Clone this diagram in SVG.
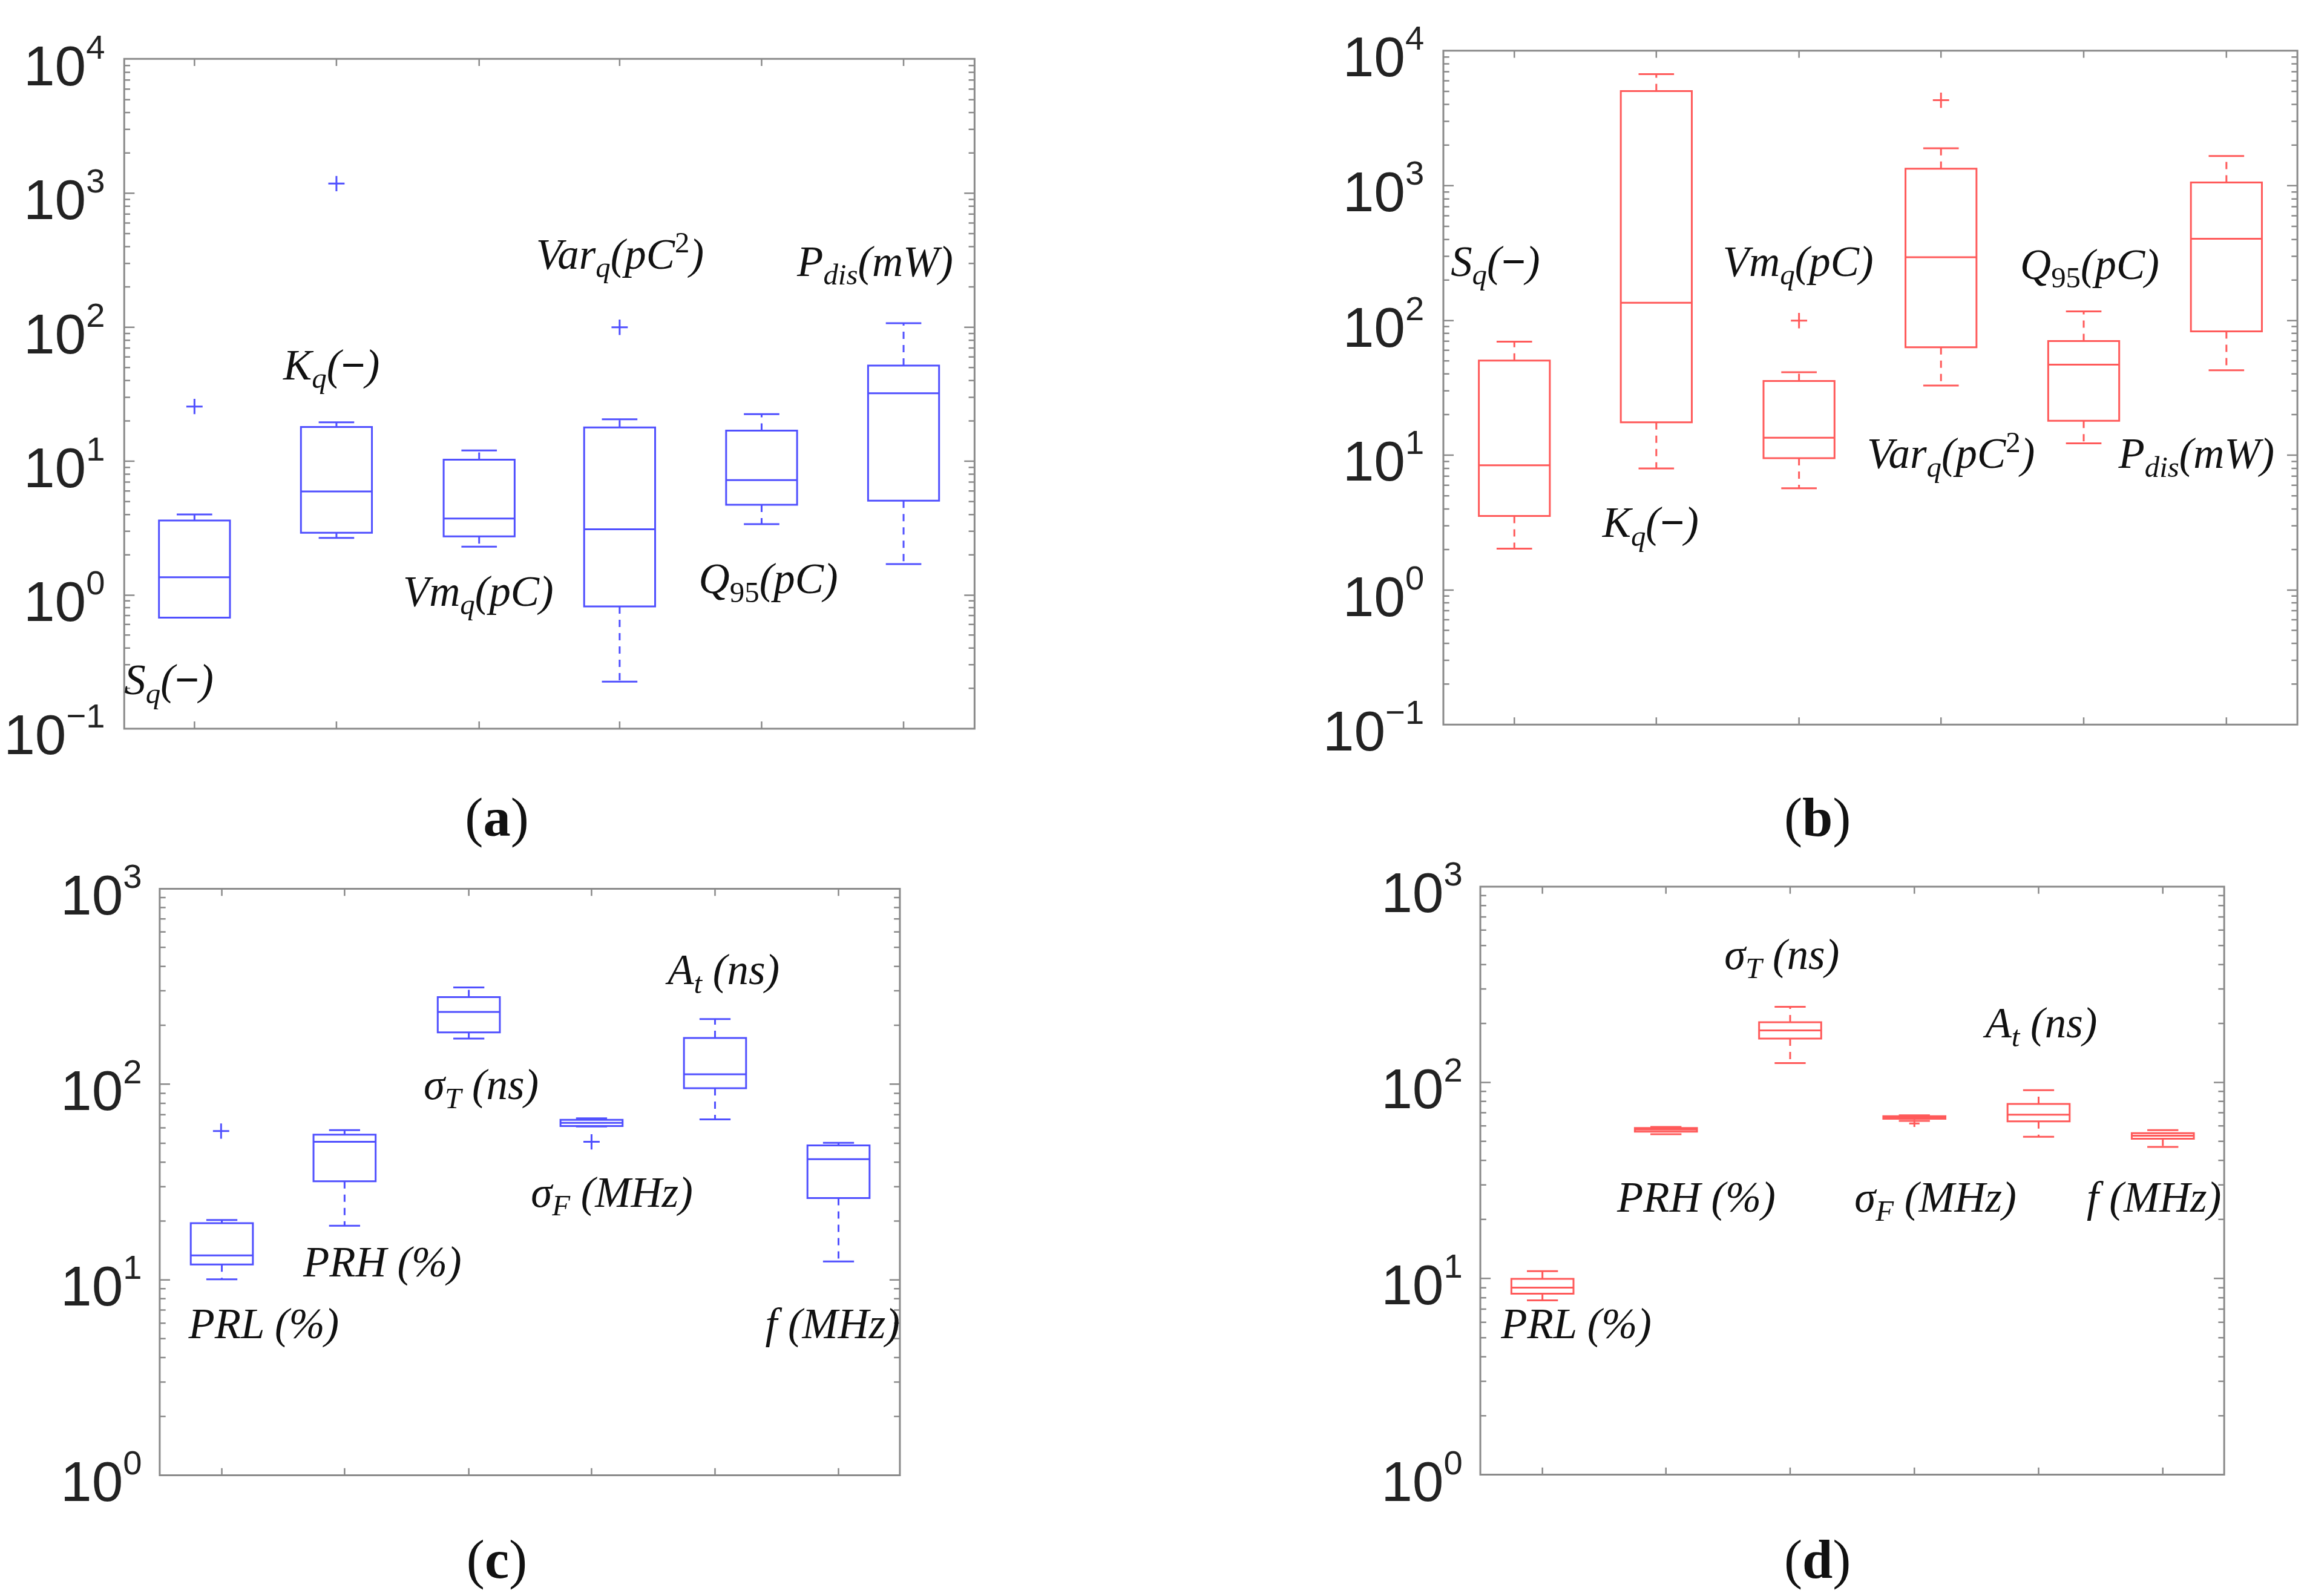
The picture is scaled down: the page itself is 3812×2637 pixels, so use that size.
<svg xmlns="http://www.w3.org/2000/svg" xmlns:xlink="http://www.w3.org/1999/xlink" width="3812" height="2637" viewBox="0 0 3812 2637">
<style>
rect,path{vector-effect:non-scaling-stroke}
.ax{fill:none;stroke:#8a8a8a;stroke-width:3}
.tkm{fill:none;stroke:#8a8a8a;stroke-width:2.5}
.bl{fill:none;stroke:#5050ff;stroke-width:3}
.rd{fill:none;stroke:#ff5a5a;stroke-width:3}
.dash{stroke-dasharray:12 10}
.tk{font-family:"Liberation Sans",Arial,sans-serif;font-size:76px;fill:#222}
.sup{font-size:46px}
.lab{font-family:"Liberation Serif","Times New Roman",serif;font-style:italic;font-size:58px;fill:#111}
.sub{font-size:40px}
.cap{font-family:"Liberation Serif","Times New Roman",serif;font-size:74px;fill:#111}
.bold{font-style:normal;font-weight:bold}
</style>
<defs>
<path id="mt" class="tkm" d="M0,-0.301h8M0,-0.477h8M0,-0.602h8M0,-0.699h8M0,-0.778h8M0,-0.845h8M0,-0.903h8M0,-0.954h8"/>
<path id="pl" d="M-11,0h22M0,-15v30"/>
</defs>
<rect width="3812" height="2637" fill="#fff"/>

<g id="panel-a" transform="scale(1.2218)">
<g transform="scale(1,0.6915)">
<rect class="ax" x="168" y="115" width="1150" height="1310"/>
<g>
<use xlink:href="#mt" transform="translate(168,1425) scale(1,262)"/><use xlink:href="#mt" transform="translate(168,1164) scale(1,262)"/><use xlink:href="#mt" transform="translate(168,902) scale(1,262)"/><use xlink:href="#mt" transform="translate(168,640) scale(1,262)"/><use xlink:href="#mt" transform="translate(168,378) scale(1,262)"/>
<use xlink:href="#mt" transform="translate(1318,1425) scale(-1,262)"/><use xlink:href="#mt" transform="translate(1318,1164) scale(-1,262)"/><use xlink:href="#mt" transform="translate(1318,902) scale(-1,262)"/><use xlink:href="#mt" transform="translate(1318,640) scale(-1,262)"/><use xlink:href="#mt" transform="translate(1318,378) scale(-1,262)"/>
<path class="tkm" d="M168,378h14M168,640h14M168,902h14M168,1164h14M1318,378h-14M1318,640h-14M1318,902h-14M1318,1164h-14M263,1425v-14M455,1425v-14M648,1425v-14M838,1425v-14M1030,1425v-14M1222,1425v-14M263,115v14M455,115v14M648,115v14M838,115v14M1030,115v14M1222,115v14"/>
</g>
<g id="a-boxes" class="bl">
<g id="a1"><rect x="215" y="1018" width="96" height="190"/><path d="M215,1129h96M263,1018v-12M239,1006h48"/><use xlink:href="#pl" x="263" y="795"/></g>
<g id="a2"><rect x="407" y="835" width="96" height="207"/><path d="M407,961h96M431,826h48M431,1052h48"/><path class="dash" d="M455,835v-9M455,1042v10"/><use xlink:href="#pl" x="455" y="359"/></g>
<g id="a3"><rect x="600" y="899" width="96" height="150"/><path d="M600,1014h96M624,881h48M624,1069h48"/><path class="dash" d="M648,899v-18M648,1049v20"/></g>
<g id="a4"><rect x="790" y="836" width="96" height="350"/><path d="M790,1035h96M814,820h48M814,1333h48"/><path class="dash" d="M838,836v-16M838,1186v147"/><use xlink:href="#pl" x="838" y="640"/></g>
<g id="a5"><rect x="982" y="842" width="96" height="145"/><path d="M982,939h96M1006,810h48M1006,1025h48"/><path class="dash" d="M1030,842v-32M1030,987v38"/></g>
<g id="a6"><rect x="1174" y="715" width="96" height="264"/><path d="M1174,769h96M1198,632h48M1198,1103h48"/><path class="dash" d="M1222,715v-83M1222,979v124"/></g>
</g>
</g>
<g text-anchor="end">
<text class="tk" x="142" y="115">10<tspan class="sup" dy="-36">4</tspan></text>
<text class="tk" x="142" y="296">10<tspan class="sup" dy="-36">3</tspan></text>
<text class="tk" x="142" y="478">10<tspan class="sup" dy="-36">2</tspan></text>
<text class="tk" x="142" y="659">10<tspan class="sup" dy="-36">1</tspan></text>
<text class="tk" x="142" y="840">10<tspan class="sup" dy="-36">0</tspan></text>
<text class="tk" x="142" y="1020">10<tspan class="sup" dy="-36">−1</tspan></text>
</g>
<g id="a-labels">
<text class="lab" x="168" y="939">S<tspan class="sub" dy="12">q</tspan><tspan dy="-12">(<tspan class="bold">−</tspan>)</tspan></text>
<text class="lab" x="383" y="513">K<tspan class="sub" dy="12">q</tspan><tspan dy="-12">(<tspan class="bold">−</tspan>)</tspan></text>
<text class="lab" x="545" y="819">Vm<tspan class="sub" dy="12">q</tspan><tspan dy="-12">(pC)</tspan></text>
<text class="lab" x="725" y="363">Var<tspan class="sub" dy="12">q</tspan><tspan dy="-12">(pC<tspan class="sub" dy="-22" font-style="normal">2</tspan><tspan dy="22">)</tspan></tspan></text>
<text class="lab" x="945" y="802">Q<tspan class="sub" dy="12" font-style="normal">95</tspan><tspan dy="-12">(pC)</tspan></text>
<text class="lab" x="1078" y="373">P<tspan class="sub" dy="12">dis</tspan><tspan dy="-12">(mW)</tspan></text>
</g>
<text class="cap" x="672" y="1130" text-anchor="middle">(<tspan font-weight="bold">a</tspan>)</text>
</g>

<g id="panel-b" transform="translate(1906,0) scale(1.2218)">
<g transform="scale(1,0.6915)">
<rect class="ax" x="392" y="99" width="1155" height="1318"/>
<g>
<use xlink:href="#mt" transform="translate(392,1417) scale(1,263.6)"/><use xlink:href="#mt" transform="translate(392,1154) scale(1,263.6)"/><use xlink:href="#mt" transform="translate(392,890) scale(1,263.6)"/><use xlink:href="#mt" transform="translate(392,627) scale(1,263.6)"/><use xlink:href="#mt" transform="translate(392,363) scale(1,263.6)"/>
<use xlink:href="#mt" transform="translate(1547,1417) scale(-1,263.6)"/><use xlink:href="#mt" transform="translate(1547,1154) scale(-1,263.6)"/><use xlink:href="#mt" transform="translate(1547,890) scale(-1,263.6)"/><use xlink:href="#mt" transform="translate(1547,627) scale(-1,263.6)"/><use xlink:href="#mt" transform="translate(1547,363) scale(-1,263.6)"/>
<path class="tkm" d="M392,363h14M392,627h14M392,890h14M392,1154h14M1547,363h-14M1547,627h-14M1547,890h-14M1547,1154h-14M488,1417v-14M680,1417v-14M873,1417v-14M1065,1417v-14M1258,1417v-14M1451,1417v-14M488,99v14M680,99v14M873,99v14M1065,99v14M1258,99v14M1451,99v14"/>
</g>
<g id="b-boxes" class="rd">
<g id="b1"><rect x="440" y="705" width="96" height="304"/><path d="M440,910h96M464,668h48M464,1073h48"/><path class="dash" d="M488,705v-37M488,1009v64"/></g>
<g id="b2"><rect x="632" y="178" width="96" height="648"/><path d="M632,592h96M656,145h48M656,916h48"/><path class="dash" d="M680,178v-33M680,826v90"/></g>
<g id="b3"><rect x="825" y="745" width="96" height="151"/><path d="M825,856h96M849,728h48M849,955h48"/><path class="dash" d="M873,745v-17M873,896v59"/><use xlink:href="#pl" x="873" y="627"/></g>
<g id="b4"><rect x="1017" y="330" width="96" height="349"/><path d="M1017,503h96M1041,290h48M1041,754h48"/><path class="dash" d="M1065,330v-40M1065,679v75"/><use xlink:href="#pl" x="1065" y="196"/></g>
<g id="b5"><rect x="1210" y="667" width="96" height="156"/><path d="M1210,713h96M1234,609h48M1234,867h48"/><path class="dash" d="M1258,667v-58M1258,823v44"/></g>
<g id="b6"><rect x="1403" y="357" width="96" height="291"/><path d="M1403,467h96M1427,305h48M1427,724h48"/><path class="dash" d="M1451,357v-52M1451,648v76"/></g>
</g>
</g>
<g text-anchor="end">
<text class="tk" x="366" y="103">10<tspan class="sup" dy="-36">4</tspan></text>
<text class="tk" x="366" y="286">10<tspan class="sup" dy="-36">3</tspan></text>
<text class="tk" x="366" y="469">10<tspan class="sup" dy="-36">2</tspan></text>
<text class="tk" x="366" y="650">10<tspan class="sup" dy="-36">1</tspan></text>
<text class="tk" x="366" y="833">10<tspan class="sup" dy="-36">0</tspan></text>
<text class="tk" x="366" y="1015">10<tspan class="sup" dy="-36">−1</tspan></text>
</g>
<g id="b-labels">
<text class="lab" x="402" y="373">S<tspan class="sub" dy="12">q</tspan><tspan dy="-12">(<tspan class="bold">−</tspan>)</tspan></text>
<text class="lab" x="607" y="726">K<tspan class="sub" dy="12">q</tspan><tspan dy="-12">(<tspan class="bold">−</tspan>)</tspan></text>
<text class="lab" x="770" y="373">Vm<tspan class="sub" dy="12">q</tspan><tspan dy="-12">(pC)</tspan></text>
<text class="lab" x="965" y="633">Var<tspan class="sub" dy="12">q</tspan><tspan dy="-12">(pC<tspan class="sub" dy="-22" font-style="normal">2</tspan><tspan dy="22">)</tspan></tspan></text>
<text class="lab" x="1172" y="377">Q<tspan class="sub" dy="12" font-style="normal">95</tspan><tspan dy="-12">(pC)</tspan></text>
<text class="lab" x="1305" y="633">P<tspan class="sub" dy="12">dis</tspan><tspan dy="-12">(mW)</tspan></text>
</g>
<text class="cap" x="898" y="1130" text-anchor="middle">(<tspan font-weight="bold">b</tspan>)</text>
</g>

<g id="panel-c" transform="translate(0,1318) scale(1.2218)">
<g transform="scale(1,0.6915)">
<rect class="ax" x="216" y="178" width="1001" height="1147"/>
<g>
<use xlink:href="#mt" transform="translate(216,1325) scale(1,382.3)"/><use xlink:href="#mt" transform="translate(216,943) scale(1,382.3)"/><use xlink:href="#mt" transform="translate(216,560) scale(1,382.3)"/>
<use xlink:href="#mt" transform="translate(1217,1325) scale(-1,382.3)"/><use xlink:href="#mt" transform="translate(1217,943) scale(-1,382.3)"/><use xlink:href="#mt" transform="translate(1217,560) scale(-1,382.3)"/>
<path class="tkm" d="M216,560h14M216,943h14M1217,560h-14M1217,943h-14M300,1325v-14M466,1325v-14M634,1325v-14M800,1325v-14M967,1325v-14M1134,1325v-14M300,178v14M466,178v14M634,178v14M800,178v14M967,178v14M1134,178v14"/>
</g>
<g id="c-boxes" class="bl">
<g id="c1"><rect x="258" y="832" width="84" height="81"/><path d="M258,895h84M279,826h42M279,942h42"/><path class="dash" d="M300,832v-6M300,913v29"/><use xlink:href="#pl" x="299" y="652"/></g>
<g id="c2"><rect x="424" y="659" width="84" height="91"/><path d="M424,673h84M445,650h42M445,837h42"/><path class="dash" d="M466,659v-9M466,750v87"/></g>
<g id="c3"><rect x="592" y="390" width="84" height="69"/><path d="M592,419h84M613,371h42M613,471h42"/><path class="dash" d="M634,390v-19M634,459v12"/></g>
<g id="c4"><rect x="758" y="630" width="84" height="12"/><path d="M758,636h84M779,627h42M779,643h42"/><use xlink:href="#pl" x="800" y="673"/></g>
<g id="c5"><rect x="925" y="470" width="84" height="98"/><path d="M925,541h84M946,433h42M946,629h42"/><path class="dash" d="M967,470v-37M967,568v61"/></g>
<g id="c6"><rect x="1092" y="680" width="84" height="103"/><path d="M1092,707h84M1113,675h42M1113,907h42"/><path class="dash" d="M1134,680v-5M1134,783v124"/></g>
</g>
</g>
<g text-anchor="end">
<text class="tk" x="192" y="158">10<tspan class="sup" dy="-36">3</tspan></text>
<text class="tk" x="192" y="422">10<tspan class="sup" dy="-36">2</tspan></text>
<text class="tk" x="192" y="687">10<tspan class="sup" dy="-36">1</tspan></text>
<text class="tk" x="192" y="951">10<tspan class="sup" dy="-36">0</tspan></text>
</g>
<g id="c-labels">
<text class="lab" x="255" y="731">PRL (%)</text>
<text class="lab" x="410" y="647">PRH (%)</text>
<text class="lab" x="573" y="408">σ<tspan class="sub" dy="12">T</tspan><tspan dy="-12"> (ns)</tspan></text>
<text class="lab" x="718" y="553">σ<tspan class="sub" dy="12">F</tspan><tspan dy="-12"> (MHz)</tspan></text>
<text class="lab" x="903" y="252">A<tspan class="sub" dy="12">t</tspan><tspan dy="-12"> (ns)</tspan></text>
<text class="lab" x="1035" y="731">f (MHz)</text>
</g>
<text class="cap" x="672" y="1055" text-anchor="middle">(<tspan font-weight="bold">c</tspan>)</text>
</g>

<g id="panel-d" transform="translate(1906,1318) scale(1.2218)">
<g transform="scale(1,0.6915)">
<rect class="ax" x="442" y="174" width="1006" height="1150"/>
<g>
<use xlink:href="#mt" transform="translate(442,1324) scale(1,383.3)"/><use xlink:href="#mt" transform="translate(442,940) scale(1,383.3)"/><use xlink:href="#mt" transform="translate(442,557) scale(1,383.3)"/>
<use xlink:href="#mt" transform="translate(1448,1324) scale(-1,383.3)"/><use xlink:href="#mt" transform="translate(1448,940) scale(-1,383.3)"/><use xlink:href="#mt" transform="translate(1448,557) scale(-1,383.3)"/>
<path class="tkm" d="M442,557h14M442,940h14M1448,557h-14M1448,940h-14M526,1324v-14M693,1324v-14M861,1324v-14M1029,1324v-14M1197,1324v-14M1365,1324v-14M526,174v14M693,174v14M861,174v14M1029,174v14M1197,174v14M1365,174v14"/>
</g>
<g id="d-boxes" class="rd">
<g id="d1"><rect x="484" y="941" width="84" height="29"/><path d="M484,958h84M505,926h42M505,983h42"/><path class="dash" d="M526,941v-15M526,970v13"/></g>
<g id="d2"><rect x="651" y="646" width="84" height="7"/><path d="M651,649h84M672,644h42M672,658h42"/></g>
<g id="d3"><rect x="819" y="439" width="84" height="32"/><path d="M819,455h84M840,409h42M840,519h42"/><path class="dash" d="M861,439v-30M861,471v48"/></g>
<g id="d4"><rect x="987" y="623" width="84" height="5"/><path d="M987,625h84M1008,621h42M1008,632h42"/><path d="M1022,637h14M1029,630v14"/></g>
<g id="d5"><rect x="1155" y="599" width="84" height="34"/><path d="M1155,620h84M1176,572h42M1176,663h42"/><path class="dash" d="M1197,599v-27M1197,633v30"/></g>
<g id="d6"><rect x="1323" y="656" width="84" height="11"/><path d="M1323,661h84M1344,650h42M1344,683h42"/><path class="dash" d="M1365,667v16"/></g>
</g>
</g>
<g text-anchor="end">
<text class="tk" x="418" y="155">10<tspan class="sup" dy="-36">3</tspan></text>
<text class="tk" x="418" y="420">10<tspan class="sup" dy="-36">2</tspan></text>
<text class="tk" x="418" y="685">10<tspan class="sup" dy="-36">1</tspan></text>
<text class="tk" x="418" y="951">10<tspan class="sup" dy="-36">0</tspan></text>
</g>
<g id="d-labels">
<text class="lab" x="470" y="731">PRL (%)</text>
<text class="lab" x="627" y="560">PRH (%)</text>
<text class="lab" x="772" y="232">σ<tspan class="sub" dy="12">T</tspan><tspan dy="-12"> (ns)</tspan></text>
<text class="lab" x="948" y="560">σ<tspan class="sub" dy="12">F</tspan><tspan dy="-12"> (MHz)</tspan></text>
<text class="lab" x="1125" y="324">A<tspan class="sub" dy="12">t</tspan><tspan dy="-12"> (ns)</tspan></text>
<text class="lab" x="1262" y="560">f (MHz)</text>
</g>
<text class="cap" x="898" y="1055" text-anchor="middle">(<tspan font-weight="bold">d</tspan>)</text>
</g>
</svg>
